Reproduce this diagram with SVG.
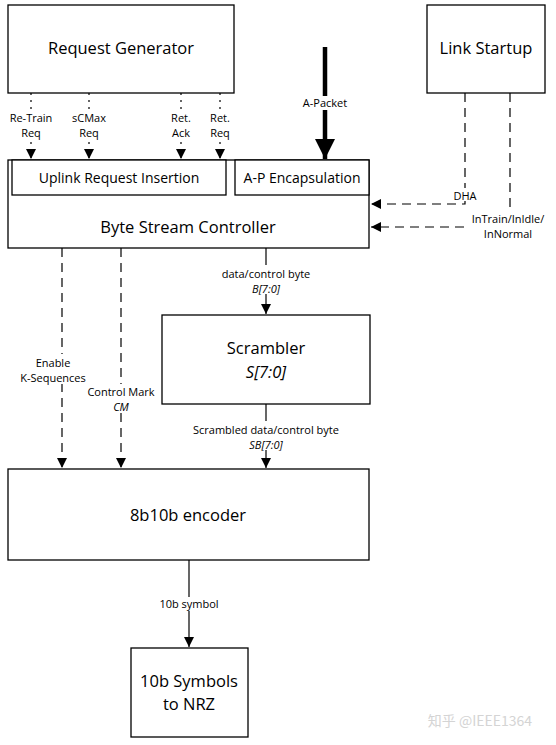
<svg xmlns="http://www.w3.org/2000/svg" width="556" height="745" viewBox="0 0 556 745">
<defs>
<style>
.box{fill:#fff;stroke:#000;stroke-width:1.3}
.t{font-family:"Open Sans","Liberation Sans",sans-serif;font-size:16.5px;fill:#000;text-anchor:middle}
.s{font-family:"Open Sans","Liberation Sans",sans-serif;font-size:11px;fill:#000;text-anchor:middle}
.i{font-style:italic}
.sol{stroke:#000;stroke-width:1.2;fill:none}
.dot{stroke:#000;stroke-width:1.2;fill:none;stroke-dasharray:2 5}
.dash{stroke:#000;stroke-width:1.2;fill:none;stroke-dasharray:9 6}
.bg{fill:#fff}
</style>
<marker id="ah" viewBox="0 0 10 10" refX="10" refY="5" markerWidth="10" markerHeight="10" markerUnits="userSpaceOnUse" orient="auto">
<path d="M0,0 L10,5 L0,10 Z" fill="#000"/>
</marker>
<marker id="ahb" viewBox="0 0 10 10" refX="10" refY="5" markerWidth="20" markerHeight="20" markerUnits="userSpaceOnUse" orient="auto">
<path d="M0,0 L10,5 L0,10 Z" fill="#000"/>
</marker>
</defs>
<rect width="556" height="745" fill="#fff"/>

<g id="connectors">
<line class="dot" x1="31" y1="93" x2="31" y2="159" marker-end="url(#ah)"/>
<line class="dot" x1="89" y1="93" x2="89" y2="159" marker-end="url(#ah)"/>
<line class="dot" x1="181" y1="93" x2="181" y2="159" marker-end="url(#ah)"/>
<line class="dot" x1="220" y1="93" x2="220" y2="159" marker-end="url(#ah)"/>
<line x1="325" y1="47" x2="325" y2="159" stroke="#000" stroke-width="4.5" marker-end="url(#ahb)"/>
<polyline class="dash" points="465,93 465,204 371,204" marker-end="url(#ah)"/>
<polyline class="dash" points="510,93 510,227 371,227" marker-end="url(#ah)"/>
<line class="dash" x1="62" y1="248" x2="62" y2="468" marker-end="url(#ah)"/>
<line class="dash" x1="121" y1="248" x2="121" y2="468" marker-end="url(#ah)"/>
<line class="sol" x1="266" y1="248" x2="266" y2="314" marker-end="url(#ah)"/>
<line class="sol" x1="266" y1="404" x2="266" y2="468" marker-end="url(#ah)"/>
<line class="sol" x1="189" y1="560" x2="189" y2="647" marker-end="url(#ah)"/>

<rect class="bg" x="6" y="110" width="50" height="28"/>
<text class="s" x="31" y="122">Re-Train</text>
<text class="s" x="31" y="137">Req</text>
<rect class="bg" x="68" y="110" width="42" height="28"/>
<text class="s" x="89" y="122">sCMax</text>
<text class="s" x="89" y="137">Req</text>
<rect class="bg" x="169" y="110" width="24" height="28"/>
<text class="s" x="181" y="122">Ret.</text>
<text class="s" x="181" y="137">Ack</text>
<rect class="bg" x="208" y="110" width="24" height="28"/>
<text class="s" x="220" y="122">Ret.</text>
<text class="s" x="220" y="137">Req</text>
<rect class="bg" x="295" y="96" width="60" height="14"/>
<text class="s" x="325" y="107">A-Packet</text>
<rect class="bg" x="448" y="188" width="34" height="13"/>
<text class="s" x="465" y="200">DHA</text>
<rect class="bg" x="467" y="211" width="84" height="29"/>
<text class="s" x="508" y="223">InTrain/InIdle/</text>
<text class="s" x="508" y="238">InNormal</text>
<rect class="bg" x="20" y="354" width="72" height="30"/>
<text class="s" x="53" y="367">Enable</text>
<text class="s" x="53" y="382">K-Sequences</text>
<rect class="bg" x="84" y="384" width="76" height="29"/>
<text class="s" x="121" y="396">Control Mark</text>
<text class="s i" x="121" y="411">CM</text>
<rect class="bg" x="216" y="265" width="100" height="29"/>
<text class="s" x="266" y="278">data/control byte</text>
<text class="s i" x="266" y="293">B[7:0]</text>
<rect class="bg" x="186" y="421" width="160" height="29"/>
<text class="s" x="266" y="434">Scrambled data/control byte</text>
<text class="s i" x="266" y="449">SB[7:0]</text>
<rect class="bg" x="155" y="597" width="68" height="14"/>
<text class="s" x="189" y="608">10b symbol</text>
</g>

<g id="request-generator">
<rect class="box" x="8" y="5" width="226" height="88"/>
<text class="t" x="121" y="54">Request Generator</text>
</g>
<g id="link-startup">
<rect class="box" x="427" y="5" width="118" height="88"/>
<text class="t" x="486" y="54">Link Startup</text>
</g>
<g id="byte-stream-controller">
<rect class="box" x="8" y="160" width="361" height="88"/>
<text class="t" x="188" y="233">Byte Stream Controller</text>
</g>
<g id="uplink-request-insertion">
<rect class="box" x="12" y="160" width="214" height="35"/>
<text class="s" x="119" y="183" style="font-size:14px">Uplink Request Insertion</text>
</g>
<g id="ap-encapsulation">
<rect class="box" x="235" y="160" width="134" height="35"/>
<text class="s" x="302" y="183" style="font-size:14px">A-P Encapsulation</text>
</g>
<g id="scrambler">
<rect class="box" x="162" y="315" width="208" height="89"/>
<text class="t" x="266" y="354">Scrambler</text>
<text class="t i" x="266" y="378">S[7:0]</text>
</g>
<g id="encoder">
<rect class="box" x="8" y="469" width="361" height="91"/>
<text class="t" x="188" y="521">8b10b encoder</text>
</g>
<g id="nrz">
<rect class="box" x="131" y="648" width="117" height="89"/>
<text class="t" x="189" y="687">10b Symbols</text>
<text class="t" x="189" y="710">to NRZ</text>
</g>
<text x="480" y="726" style="font-family:'Noto Sans CJK SC','Open Sans',sans-serif;font-size:14px;fill:#d4d4d4;text-anchor:middle">知乎 @IEEE1364</text>
</svg>
